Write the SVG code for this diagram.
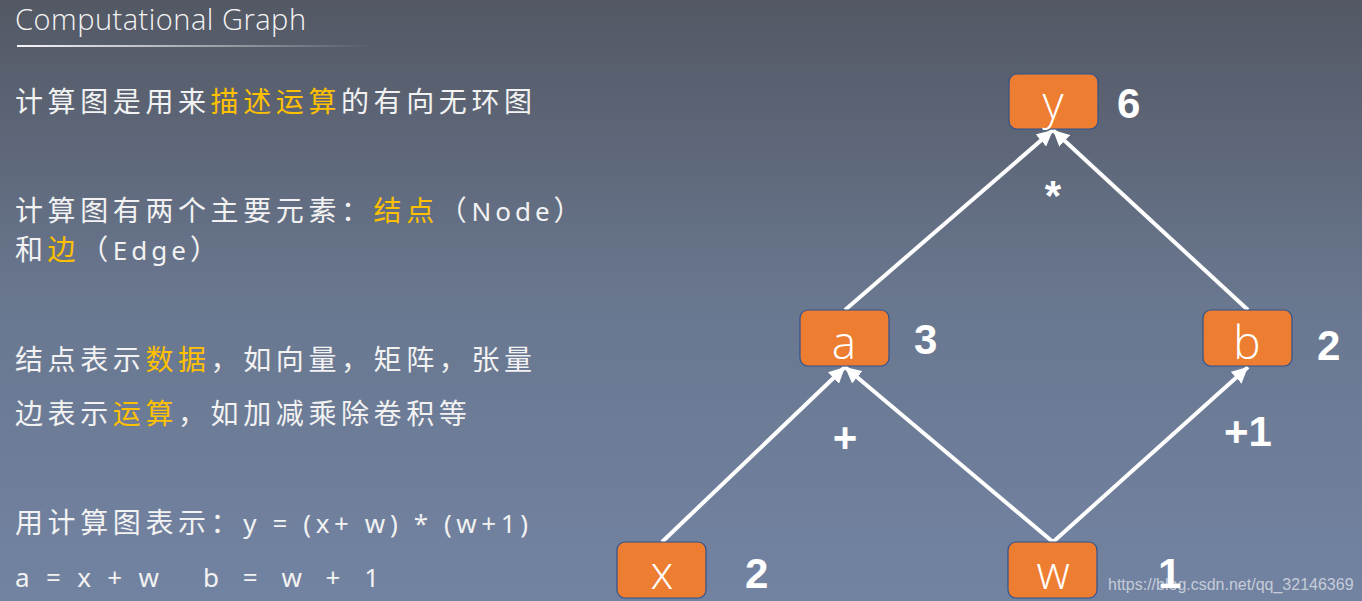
<svg xmlns="http://www.w3.org/2000/svg" width="1362" height="601" viewBox="0 0 1362 601">
<defs>
<linearGradient id="bg" x1="0" y1="0" x2="0" y2="1">
<stop offset="0" stop-color="#535864"/>
<stop offset="0.5" stop-color="#69778f"/>
<stop offset="1" stop-color="#7283a2"/>
</linearGradient>
<linearGradient id="ul" x1="0" y1="0" x2="1" y2="0">
<stop offset="0" stop-color="#ffffff" stop-opacity="0.95"/>
<stop offset="1" stop-color="#ffffff" stop-opacity="0"/>
</linearGradient>
<marker id="ah" markerUnits="userSpaceOnUse" markerWidth="18" markerHeight="16" refX="16" refY="8" orient="auto">
<path d="M0,0 L16,8 L0,16 Z" fill="#ffffff"/>
</marker>
</defs>
<style>
.t{font-family:"Noto Sans CJK SC","Noto Sans",sans-serif;font-size:28px;letter-spacing:4.6px;fill:#f2f2f2}
.lat{font-family:"Noto Sans",sans-serif;font-size:26px;letter-spacing:4px}
.hl{fill:#ffc000}
.node rect{fill:#ed7d31;stroke:#2f528f;stroke-width:1.2}
.node text{font-family:"Open Sans","Noto Sans",sans-serif;font-weight:300;font-size:46px;fill:#ffffff;text-anchor:middle}
.val{font-family:"Liberation Sans",Arial,sans-serif;font-weight:bold;font-size:42px;fill:#ffffff}
.edge line{stroke:#ffffff;stroke-width:4;marker-end:url(#ah)}
</style>
<rect x="0" y="0" width="1362" height="601" fill="url(#bg)"/>
<text x="15" y="30" font-family="'Open Sans','Noto Sans',sans-serif" font-weight="300" font-size="29" fill="#f4f4f4" textLength="291" lengthAdjust="spacing">Computational Graph</text>
<rect x="17" y="45" width="355" height="2" fill="url(#ul)"/>

<text class="t" x="15" y="112">计算图是用来<tspan class="hl">描述运算</tspan>的有向无环图</text>
<text class="t" x="15" y="221">计算图有两个主要元素：<tspan class="hl">结点</tspan>（<tspan class="lat">Node</tspan>）</text>
<text class="t" x="15" y="260">和<tspan class="hl">边</tspan>（<tspan class="lat">Edge</tspan>）</text>
<text class="t" x="15" y="370">结点表示<tspan class="hl">数据</tspan>，如向量，矩阵，张量</text>
<text class="t" x="15" y="424">边表示<tspan class="hl">运算</tspan>，如加减乘除卷积等</text>
<text class="t" x="15" y="533">用计算图表示：<tspan class="lat" style="letter-spacing:4.6px">y = (x+ w) * (w+1)</tspan></text>
<text class="t" x="15" y="587"><tspan class="lat" style="letter-spacing:4.8px">a = x + w</tspan></text>
<text class="t" x="203" y="587"><tspan class="lat" style="letter-spacing:8.5px">b = w + 1</tspan></text>

<g id="connectors" class="edge">
<line x1="662" y1="542" x2="845" y2="367"/>
<line x1="1053" y1="542" x2="845" y2="367"/>
<line x1="1053" y1="542" x2="1248" y2="367"/>
<line x1="845" y1="310" x2="1053" y2="130"/>
<line x1="1248" y1="310" x2="1053" y2="130"/>
</g>

<g id="node-y" class="node"><rect x="1009" y="74" width="89" height="55" rx="8"/><text x="1053" y="119">y</text></g>
<g id="node-a" class="node"><rect x="800" y="310" width="89" height="56" rx="8"/><text x="844" y="359">a</text></g>
<g id="node-b" class="node"><rect x="1203" y="310" width="89" height="56" rx="8"/><text x="1247" y="359">b</text></g>
<g id="node-x" class="node"><rect x="617" y="542" width="89" height="56" rx="8"/><text x="662" y="589">x</text></g>
<g id="node-w" class="node"><rect x="1008" y="542" width="89" height="56" rx="8"/><text x="1053" y="589">w</text></g>

<text class="val" x="1117" y="118">6</text>
<text class="val" x="914" y="354">3</text>
<text class="val" x="1317" y="360">2</text>
<text class="val" x="745" y="588">2</text>
<text class="val" x="1158" y="588">1</text>

<text class="val" x="845" y="452" text-anchor="middle">+</text>
<text class="val" x="1224" y="446">+1</text>
<text class="val" x="1053" y="210" text-anchor="middle">*</text>

<text x="1108" y="590" font-family="'Liberation Sans',Arial,sans-serif" font-size="16" fill="#ffffff" fill-opacity="0.6">https://blog.csdn.net/qq_32146369</text>
</svg>
